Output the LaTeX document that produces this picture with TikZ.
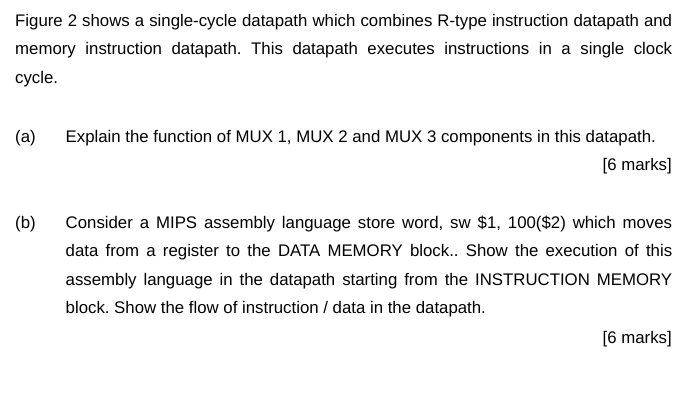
\documentclass[tikz,border=0pt]{standalone}
\usepackage{fontspec}
\setmainfont{Liberation Sans}
\usetikzlibrary{positioning}

\tikzset{
  txt/.style={anchor=base west,inner sep=0pt,font=\fontsize{16.8}{20}\selectfont\frenchspacing},
  marks/.style={anchor=base east,inner sep=0pt,font=\fontsize{16.8}{20}\selectfont}
}

\begin{document}
\begin{tikzpicture}[x=1pt,y=-1pt]
    \useasboundingbox[fill=white] (0,0) rectangle (700,410);
    % opening paragraph
    \node[txt] (intro1) at (15,26) {\makebox[657pt][s]{Figure 2 shows a single-cycle datapath which combines R-type instruction datapath and}};
    \node[txt] (intro2) at (15,54.5) {\makebox[657pt][s]{memory instruction datapath. This datapath executes instructions in a single clock}};
    \node[txt] (intro3) at (15,83) {cycle.};
    % part (a)
    \node[txt] (qa) at (15,142) {(a)};
    \node[txt] (qatext) at (65.5,142) {Explain the function of MUX 1, MUX 2 and MUX 3 components in this datapath.};
    \node[marks] (marksa) at (672,170) {[6 marks]};
    % part (b)
    \node[txt] (qb) at (15,228) {(b)};
    \node[txt] (qb1) at (65.5,228) {\makebox[606.5pt][s]{Consider a MIPS assembly language store word, sw \$1, 100(\$2) which moves}};
    \node[txt] (qb2) at (65.5,256.5) {\makebox[606.5pt][s]{data from a register to the DATA MEMORY block.. Show the execution of this}};
    \node[txt] (qb3) at (65.5,285) {\makebox[606.5pt][s]{assembly language in the datapath starting from the INSTRUCTION MEMORY}};
    \node[txt] (qb4) at (65.5,313.5) {block. Show the flow of instruction / data in the datapath.};
    \node[marks] (marksb) at (672,343) {[6 marks]};
\end{tikzpicture}
\end{document}
